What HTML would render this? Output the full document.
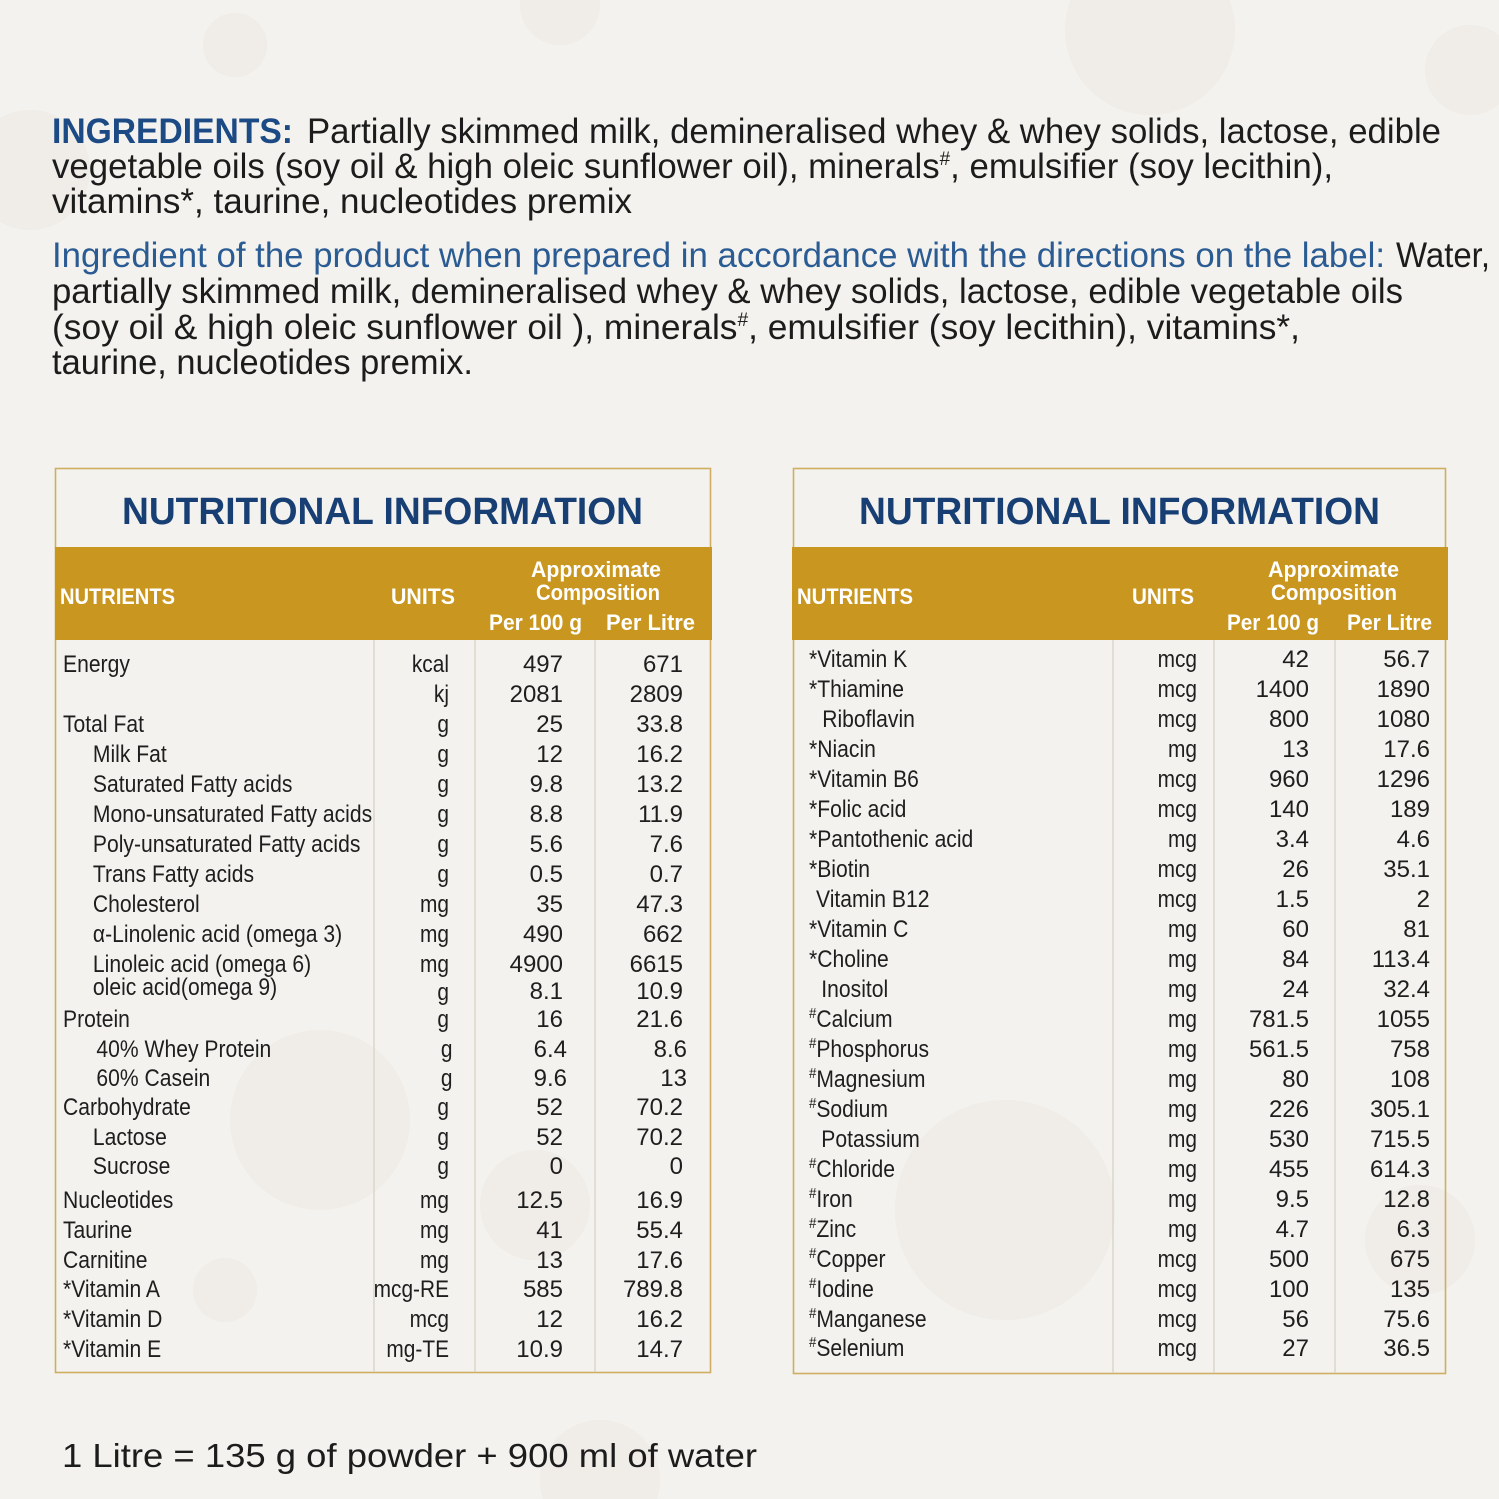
<!DOCTYPE html>
<html><head><meta charset="utf-8"><style>
html,body{margin:0;padding:0;background:#f3f2ee;}
svg{display:block;}
text{font-family:"Liberation Sans",sans-serif;}
.b{font-size:24px;fill:#1e1e1e;}
.hd{font-size:22px;font-weight:bold;fill:#ffffff;}
.tt{font-size:38px;font-weight:bold;fill:#173f74;}
.ing{font-size:35px;fill:#1c1c1c;}
</style></head><body>
<svg width="1499" height="1499" viewBox="0 0 1499 1499" xmlns="http://www.w3.org/2000/svg">
<rect width="1499" height="1499" fill="#f3f2ee"/>
<g fill="#eee5e0" opacity="0.45">
<circle cx="235" cy="45" r="32"/>
<circle cx="560" cy="5" r="40"/>
<circle cx="1150" cy="30" r="85"/>
<circle cx="1470" cy="70" r="45"/>
<circle cx="30" cy="170" r="60"/>
<circle cx="320" cy="1120" r="90"/>
<circle cx="535" cy="1205" r="55"/>
<circle cx="225" cy="1290" r="32"/>
<circle cx="1005" cy="1210" r="110"/>
<circle cx="600" cy="1480" r="60"/>
<circle cx="1420" cy="1240" r="55"/>
</g>

<!-- Ingredients -->
<text class="ing" x="52" y="143" textLength="241" lengthAdjust="spacingAndGlyphs" font-weight="bold" style="fill:#1c4a85">INGREDIENTS:</text>
<text class="ing" x="307" y="143" textLength="1134" lengthAdjust="spacingAndGlyphs">Partially skimmed milk, demineralised whey &amp; whey solids, lactose, edible</text>
<text class="ing" x="52" y="178" textLength="1281" lengthAdjust="spacingAndGlyphs">vegetable oils (soy oil &amp; high oleic sunflower oil), minerals<tspan font-size="19" dy="-13">#</tspan><tspan dy="13">, emulsifier (soy lecithin),</tspan></text>
<text class="ing" x="52" y="213" textLength="580" lengthAdjust="spacingAndGlyphs">vitamins*, taurine, nucleotides premix</text>

<text class="ing" x="52" y="267" textLength="1333" lengthAdjust="spacingAndGlyphs" style="fill:#2b5b93">Ingredient of the product when prepared in accordance with the directions on the label:</text>
<text class="ing" x="1396" y="267" textLength="94" lengthAdjust="spacingAndGlyphs">Water,</text>
<text class="ing" x="52" y="303" textLength="1351" lengthAdjust="spacingAndGlyphs">partially skimmed milk, demineralised whey &amp; whey solids, lactose, edible vegetable oils</text>
<text class="ing" x="52" y="339" textLength="1248" lengthAdjust="spacingAndGlyphs">(soy oil &amp; high oleic sunflower oil ), minerals<tspan font-size="19" dy="-13">#</tspan><tspan dy="13">, emulsifier (soy lecithin), vitamins*,</tspan></text>
<text class="ing" x="52" y="374" textLength="421" lengthAdjust="spacingAndGlyphs">taurine, nucleotides premix.</text>

<text class="ing" x="62" y="1467" textLength="695" lengthAdjust="spacingAndGlyphs" style="font-size:33px">1 Litre = 135 g of  powder + 900 ml of water</text>

<!-- LEFT TABLE -->
<rect x="55.5" y="468.5" width="655" height="904" fill="none" stroke="#cfae63" stroke-width="1.6"/>
<rect x="55" y="547" width="657" height="93" fill="#c9961f"/>
<g stroke="#dcd6c8" stroke-width="1.5">
<line x1="374" y1="640" x2="374" y2="1372"/>
<line x1="475" y1="640" x2="475" y2="1372"/>
<line x1="595" y1="640" x2="595" y2="1372"/>
</g>
<text class="tt" x="122" y="524" textLength="521" lengthAdjust="spacingAndGlyphs">NUTRITIONAL INFORMATION</text>
<text class="hd" x="60" y="604" textLength="115" lengthAdjust="spacingAndGlyphs">NUTRIENTS</text>
<text class="hd" x="391" y="604" textLength="64" lengthAdjust="spacingAndGlyphs">UNITS</text>
<text class="hd" x="531" y="577" textLength="130" lengthAdjust="spacingAndGlyphs">Approximate</text>
<text class="hd" x="536" y="600" textLength="124" lengthAdjust="spacingAndGlyphs">Composition</text>
<text class="hd" x="489" y="630" textLength="93" lengthAdjust="spacingAndGlyphs">Per 100 g</text>
<text class="hd" x="606" y="630" textLength="89" lengthAdjust="spacingAndGlyphs">Per Litre</text>

<!-- left names -->
<g transform="translate(63,0) scale(0.88,1)">
<text class="b" x="0" y="672">Energy</text>
<text class="b" x="0" y="732">Total Fat</text>
<text class="b" x="34" y="762">Milk Fat</text>
<text class="b" x="34" y="792">Saturated Fatty acids</text>
<text class="b" x="34" y="822">Mono-unsaturated Fatty acids</text>
<text class="b" x="34" y="852">Poly-unsaturated Fatty acids</text>
<text class="b" x="34" y="882">Trans Fatty acids</text>
<text class="b" x="34" y="912">Cholesterol</text>
<text class="b" x="34" y="942">α-Linolenic acid (omega 3)</text>
<text class="b" x="34" y="972">Linoleic acid (omega 6)</text>
<text class="b" x="34" y="995">oleic acid(omega 9)</text>
<text class="b" x="0" y="1027">Protein</text>
<text class="b" x="38" y="1057">40% Whey Protein</text>
<text class="b" x="38" y="1086">60% Casein</text>
<text class="b" x="0" y="1115">Carbohydrate</text>
<text class="b" x="34" y="1145">Lactose</text>
<text class="b" x="34" y="1174">Sucrose</text>
<text class="b" x="0" y="1208">Nucleotides</text>
<text class="b" x="0" y="1238">Taurine</text>
<text class="b" x="0" y="1268">Carnitine</text>
<text class="b" x="0" y="1297">*Vitamin A</text>
<text class="b" x="0" y="1327">*Vitamin D</text>
<text class="b" x="0" y="1357">*Vitamin E</text>
</g>
<!-- left units -->
<g transform="translate(449,0) scale(0.87,1)" text-anchor="end">
<text class="b" x="0" y="672">kcal</text>
<text class="b" x="0" y="702">kj</text>
<text class="b" x="0" y="732">g</text>
<text class="b" x="0" y="762">g</text>
<text class="b" x="0" y="792">g</text>
<text class="b" x="0" y="822">g</text>
<text class="b" x="0" y="852">g</text>
<text class="b" x="0" y="882">g</text>
<text class="b" x="0" y="912">mg</text>
<text class="b" x="0" y="942">mg</text>
<text class="b" x="0" y="972">mg</text>
<text class="b" x="0" y="1000">g</text>
<text class="b" x="0" y="1027">g</text>
<text class="b" x="4" y="1057">g</text>
<text class="b" x="4" y="1086">g</text>
<text class="b" x="0" y="1115">g</text>
<text class="b" x="0" y="1145">g</text>
<text class="b" x="0" y="1174">g</text>
<text class="b" x="0" y="1208">mg</text>
<text class="b" x="0" y="1238">mg</text>
<text class="b" x="0" y="1268">mg</text>
<text class="b" x="0" y="1297">mcg-RE</text>
<text class="b" x="0" y="1327">mcg</text>
<text class="b" x="0" y="1357">mg-TE</text>
</g>
<!-- left per 100g -->
<g text-anchor="end">
<text class="b" x="563" y="672">497</text>
<text class="b" x="563" y="702">2081</text>
<text class="b" x="563" y="732">25</text>
<text class="b" x="563" y="762">12</text>
<text class="b" x="563" y="792">9.8</text>
<text class="b" x="563" y="822">8.8</text>
<text class="b" x="563" y="852">5.6</text>
<text class="b" x="563" y="882">0.5</text>
<text class="b" x="563" y="912">35</text>
<text class="b" x="563" y="942">490</text>
<text class="b" x="563" y="972">4900</text>
<text class="b" x="563" y="999">8.1</text>
<text class="b" x="563" y="1027">16</text>
<text class="b" x="567" y="1057">6.4</text>
<text class="b" x="567" y="1086">9.6</text>
<text class="b" x="563" y="1115">52</text>
<text class="b" x="563" y="1145">52</text>
<text class="b" x="563" y="1174">0</text>
<text class="b" x="563" y="1208">12.5</text>
<text class="b" x="563" y="1238">41</text>
<text class="b" x="563" y="1268">13</text>
<text class="b" x="563" y="1297">585</text>
<text class="b" x="563" y="1327">12</text>
<text class="b" x="563" y="1357">10.9</text>
</g>
<!-- left per litre -->
<g text-anchor="end">
<text class="b" x="683" y="672">671</text>
<text class="b" x="683" y="702">2809</text>
<text class="b" x="683" y="732">33.8</text>
<text class="b" x="683" y="762">16.2</text>
<text class="b" x="683" y="792">13.2</text>
<text class="b" x="683" y="822">11.9</text>
<text class="b" x="683" y="852">7.6</text>
<text class="b" x="683" y="882">0.7</text>
<text class="b" x="683" y="912">47.3</text>
<text class="b" x="683" y="942">662</text>
<text class="b" x="683" y="972">6615</text>
<text class="b" x="683" y="999">10.9</text>
<text class="b" x="683" y="1027">21.6</text>
<text class="b" x="687" y="1057">8.6</text>
<text class="b" x="687" y="1086">13</text>
<text class="b" x="683" y="1115">70.2</text>
<text class="b" x="683" y="1145">70.2</text>
<text class="b" x="683" y="1174">0</text>
<text class="b" x="683" y="1208">16.9</text>
<text class="b" x="683" y="1238">55.4</text>
<text class="b" x="683" y="1268">17.6</text>
<text class="b" x="683" y="1297">789.8</text>
<text class="b" x="683" y="1327">16.2</text>
<text class="b" x="683" y="1357">14.7</text>
</g>

<!-- RIGHT TABLE -->
<rect x="793.5" y="468.5" width="652" height="905" fill="none" stroke="#cfae63" stroke-width="1.6"/>
<rect x="792" y="547" width="656" height="93" fill="#c9961f"/>
<g stroke="#dcd6c8" stroke-width="1.5">
<line x1="1113" y1="640" x2="1113" y2="1373"/>
<line x1="1214" y1="640" x2="1214" y2="1373"/>
<line x1="1335" y1="640" x2="1335" y2="1373"/>
</g>
<text class="tt" x="859" y="524" textLength="521" lengthAdjust="spacingAndGlyphs">NUTRITIONAL INFORMATION</text>
<text class="hd" x="797" y="604" textLength="116" lengthAdjust="spacingAndGlyphs">NUTRIENTS</text>
<text class="hd" x="1132" y="604" textLength="62" lengthAdjust="spacingAndGlyphs">UNITS</text>
<text class="hd" x="1268" y="577" textLength="131" lengthAdjust="spacingAndGlyphs">Approximate</text>
<text class="hd" x="1271" y="600" textLength="126" lengthAdjust="spacingAndGlyphs">Composition</text>
<text class="hd" x="1227" y="630" textLength="92" lengthAdjust="spacingAndGlyphs">Per 100 g</text>
<text class="hd" x="1347" y="630" textLength="85" lengthAdjust="spacingAndGlyphs">Per Litre</text>

<g transform="translate(809,0) scale(0.88,1)">
<text class="b" x="0" y="667">*Vitamin K</text>
<text class="b" x="0" y="697">*Thiamine</text>
<text class="b" x="15" y="727">Riboflavin</text>
<text class="b" x="0" y="757">*Niacin</text>
<text class="b" x="0" y="787">*Vitamin B6</text>
<text class="b" x="0" y="817">*Folic acid</text>
<text class="b" x="0" y="847">*Pantothenic acid</text>
<text class="b" x="0" y="877">*Biotin</text>
<text class="b" x="8" y="907">Vitamin B12</text>
<text class="b" x="0" y="937">*Vitamin C</text>
<text class="b" x="0" y="967">*Choline</text>
<text class="b" x="14" y="997">Inositol</text>
<text class="b" x="0" y="1027"><tspan font-size="15" dy="-9">#</tspan><tspan dy="9">Calcium</tspan></text>
<text class="b" x="0" y="1057"><tspan font-size="15" dy="-9">#</tspan><tspan dy="9">Phosphorus</tspan></text>
<text class="b" x="0" y="1087"><tspan font-size="15" dy="-9">#</tspan><tspan dy="9">Magnesium</tspan></text>
<text class="b" x="0" y="1117"><tspan font-size="15" dy="-9">#</tspan><tspan dy="9">Sodium</tspan></text>
<text class="b" x="14" y="1147">Potassium</text>
<text class="b" x="0" y="1177"><tspan font-size="15" dy="-9">#</tspan><tspan dy="9">Chloride</tspan></text>
<text class="b" x="0" y="1207"><tspan font-size="15" dy="-9">#</tspan><tspan dy="9">Iron</tspan></text>
<text class="b" x="0" y="1237"><tspan font-size="15" dy="-9">#</tspan><tspan dy="9">Zinc</tspan></text>
<text class="b" x="0" y="1267"><tspan font-size="15" dy="-9">#</tspan><tspan dy="9">Copper</tspan></text>
<text class="b" x="0" y="1297"><tspan font-size="15" dy="-9">#</tspan><tspan dy="9">Iodine</tspan></text>
<text class="b" x="0" y="1327"><tspan font-size="15" dy="-9">#</tspan><tspan dy="9">Manganese</tspan></text>
<text class="b" x="0" y="1356"><tspan font-size="15" dy="-9">#</tspan><tspan dy="9">Selenium</tspan></text>
</g>
<g transform="translate(1197,0) scale(0.87,1)" text-anchor="end">
<text class="b" x="0" y="667">mcg</text>
<text class="b" x="0" y="697">mcg</text>
<text class="b" x="0" y="727">mcg</text>
<text class="b" x="0" y="757">mg</text>
<text class="b" x="0" y="787">mcg</text>
<text class="b" x="0" y="817">mcg</text>
<text class="b" x="0" y="847">mg</text>
<text class="b" x="0" y="877">mcg</text>
<text class="b" x="0" y="907">mcg</text>
<text class="b" x="0" y="937">mg</text>
<text class="b" x="0" y="967">mg</text>
<text class="b" x="0" y="997">mg</text>
<text class="b" x="0" y="1027">mg</text>
<text class="b" x="0" y="1057">mg</text>
<text class="b" x="0" y="1087">mg</text>
<text class="b" x="0" y="1117">mg</text>
<text class="b" x="0" y="1147">mg</text>
<text class="b" x="0" y="1177">mg</text>
<text class="b" x="0" y="1207">mg</text>
<text class="b" x="0" y="1237">mg</text>
<text class="b" x="0" y="1267">mcg</text>
<text class="b" x="0" y="1297">mcg</text>
<text class="b" x="0" y="1327">mcg</text>
<text class="b" x="0" y="1356">mcg</text>
</g>
<g text-anchor="end">
<text class="b" x="1309" y="667">42</text>
<text class="b" x="1309" y="697">1400</text>
<text class="b" x="1309" y="727">800</text>
<text class="b" x="1309" y="757">13</text>
<text class="b" x="1309" y="787">960</text>
<text class="b" x="1309" y="817">140</text>
<text class="b" x="1309" y="847">3.4</text>
<text class="b" x="1309" y="877">26</text>
<text class="b" x="1309" y="907">1.5</text>
<text class="b" x="1309" y="937">60</text>
<text class="b" x="1309" y="967">84</text>
<text class="b" x="1309" y="997">24</text>
<text class="b" x="1309" y="1027">781.5</text>
<text class="b" x="1309" y="1057">561.5</text>
<text class="b" x="1309" y="1087">80</text>
<text class="b" x="1309" y="1117">226</text>
<text class="b" x="1309" y="1147">530</text>
<text class="b" x="1309" y="1177">455</text>
<text class="b" x="1309" y="1207">9.5</text>
<text class="b" x="1309" y="1237">4.7</text>
<text class="b" x="1309" y="1267">500</text>
<text class="b" x="1309" y="1297">100</text>
<text class="b" x="1309" y="1327">56</text>
<text class="b" x="1309" y="1356">27</text>
</g>
<g text-anchor="end">
<text class="b" x="1430" y="667">56.7</text>
<text class="b" x="1430" y="697">1890</text>
<text class="b" x="1430" y="727">1080</text>
<text class="b" x="1430" y="757">17.6</text>
<text class="b" x="1430" y="787">1296</text>
<text class="b" x="1430" y="817">189</text>
<text class="b" x="1430" y="847">4.6</text>
<text class="b" x="1430" y="877">35.1</text>
<text class="b" x="1430" y="907">2</text>
<text class="b" x="1430" y="937">81</text>
<text class="b" x="1430" y="967">113.4</text>
<text class="b" x="1430" y="997">32.4</text>
<text class="b" x="1430" y="1027">1055</text>
<text class="b" x="1430" y="1057">758</text>
<text class="b" x="1430" y="1087">108</text>
<text class="b" x="1430" y="1117">305.1</text>
<text class="b" x="1430" y="1147">715.5</text>
<text class="b" x="1430" y="1177">614.3</text>
<text class="b" x="1430" y="1207">12.8</text>
<text class="b" x="1430" y="1237">6.3</text>
<text class="b" x="1430" y="1267">675</text>
<text class="b" x="1430" y="1297">135</text>
<text class="b" x="1430" y="1327">75.6</text>
<text class="b" x="1430" y="1356">36.5</text>
</g>
</svg>
</body></html>
